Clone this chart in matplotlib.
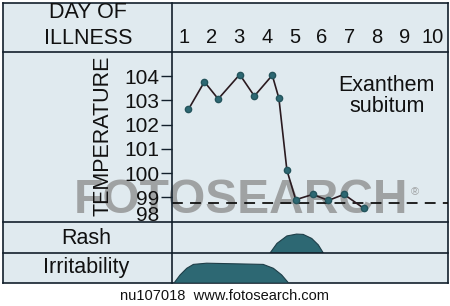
import matplotlib.pyplot as plt

plt.rcParams['font.family'] = ['Liberation Sans', 'DejaVu Sans']

# Data
days = [1, 2, 3, 4, 5, 6, 7, 8, 9, 10]
temp_day = [1.16, 1.74, 2.24, 3.02, 3.55, 4.20, 4.44, 4.73, 5.05, 5.67, 6.23, 6.80, 7.51]
temp_val = [102.63, 103.77, 103.06, 104.07, 103.18, 104.04, 103.09, 100.12, 98.90, 99.12, 98.87, 99.12, 98.55]
normal_temp = 98.76
temp_ticks = [98.35, 99, 100, 101, 102, 103, 104]
temp_labels = ["98", "99", "100", "101", "102", "103", "104"]

rash_day = [4.12, 4.37, 4.73, 5.08, 5.32, 5.63, 5.87, 6.05]
rash_level = [0, 0.31, 0.55, 0.61, 0.60, 0.47, 0.26, 0]
irrit_day = [0.64, 0.86, 1.10, 1.34, 1.82, 3.87, 4.24, 4.54, 4.79]
irrit_level = [0, 0.27, 0.49, 0.62, 0.66, 0.62, 0.49, 0.27, 0]

bg = "#e0eaef"
frame = "#13202c"
teal = "#2d6873"
W, H = 450, 306


def box(x0, y0, x1, y1):
    # pixel box (top-left origin) -> figure fraction rect
    return [x0 / W, 1 - y1 / H, (x1 - x0) / W, (y1 - y0) / H]


fig = plt.figure(figsize=(4.5, 3.06), dpi=100)

# whole table background
base = fig.add_axes(box(3, 3, 448, 283))
base.set_facecolor(bg)
base.set_xticks([])
base.set_yticks([])
for s in base.spines.values():
    s.set_color(frame)
    s.set_linewidth(1.2)

# watermark sits on the background, under the panels
base.text(241 / W, 1 - 213 / H, "FOTOSEARCH", transform=fig.transFigure,
          ha="center", va="baseline", fontsize=34.5, fontweight="bold",
          color="#8a8a8a", alpha=0.75)
base.text(415 / W, 1 - 192 / H, "®", transform=fig.transFigure,
          ha="center", va="center", fontsize=8, color="#8a8a8a", alpha=0.75)

xlim = (0.565, 10.57)


def panel(y0, y1):
    ax = fig.add_axes(box(172, y0, 448, y1))
    ax.set_facecolor("none")
    ax.set_xlim(*xlim)
    for k in ["right", "bottom"]:
        ax.spines[k].set_visible(False)
    for k in ["left", "top"]:
        ax.spines[k].set_color(frame)
        ax.spines[k].set_linewidth(1.2)
    ax.set_xticks([])
    return ax


# header row
hdr = panel(3, 52)
hdr.spines["top"].set_visible(False)
hdr.set_ylim(0, 1)
hdr.set_yticks([])
for d in days:
    hdr.text(d, 0.29, str(d), ha="center", va="center", fontsize=14.5, color="#111")

# temperature row
ax = panel(52, 222)
ax.set_ylim(97.98, 105)
ax.plot(temp_day, temp_val, color="#2a1a20", lw=1.2, zorder=3)
ax.plot(temp_day, temp_val, "o", color=teal, ms=4.5, mec="#24545c", zorder=4)
ax.axhline(normal_temp, color="#111", lw=1.3, dashes=(6, 4), zorder=2)
ax.set_yticks(temp_ticks)
ax.set_yticklabels(temp_labels, fontsize=15, color="#111")
ax.tick_params(axis="y", direction="out", length=8, width=1, color=frame, pad=1)
ax.yaxis.get_major_ticks()[0].tick1line.set_visible(False)
ax.text(8.35, 103.2, "Exanthem\nsubitum", ha="center", va="center",
        fontsize=15.5, color="#111", linespacing=1.0)

# rash row
rash = panel(222, 253)
rash.set_ylim(0, 1)
rash.set_yticks([])
rash.fill(rash_day, rash_level, color=teal, lw=0.8, ec="#1e3e48")

# irritability row
irr = panel(253, 283)
irr.set_ylim(0, 1)
irr.set_yticks([])
irr.fill(irrit_day, irrit_level, color=teal, lw=0.8, ec="#1e3e48")

# left-hand labels and row lines
for y in [52, 222, 253]:
    fig.add_artist(plt.Line2D([3 / W, 172 / W], [1 - y / H, 1 - y / H],
                              color=frame, lw=1.2))


def ftext(x, y, s, **kw):
    fig.text(x / W, 1 - y / H, s, ha="center", va="center", color="#111", **kw)


ftext(88, 12.5, "DAY OF", fontsize=15.5)
ftext(88, 38, "ILLNESS", fontsize=15.5)
ftext(103, 136, "TEMPERATURE", fontsize=15.5, rotation=90)
ftext(86, 238, "Rash", fontsize=15.5)
ftext(86, 268, "Irritability", fontsize=15.5)
ftext(224, 296, "nu107018  www.fotosearch.com", fontsize=10.5)

fig.savefig("out.png", dpi=100)
